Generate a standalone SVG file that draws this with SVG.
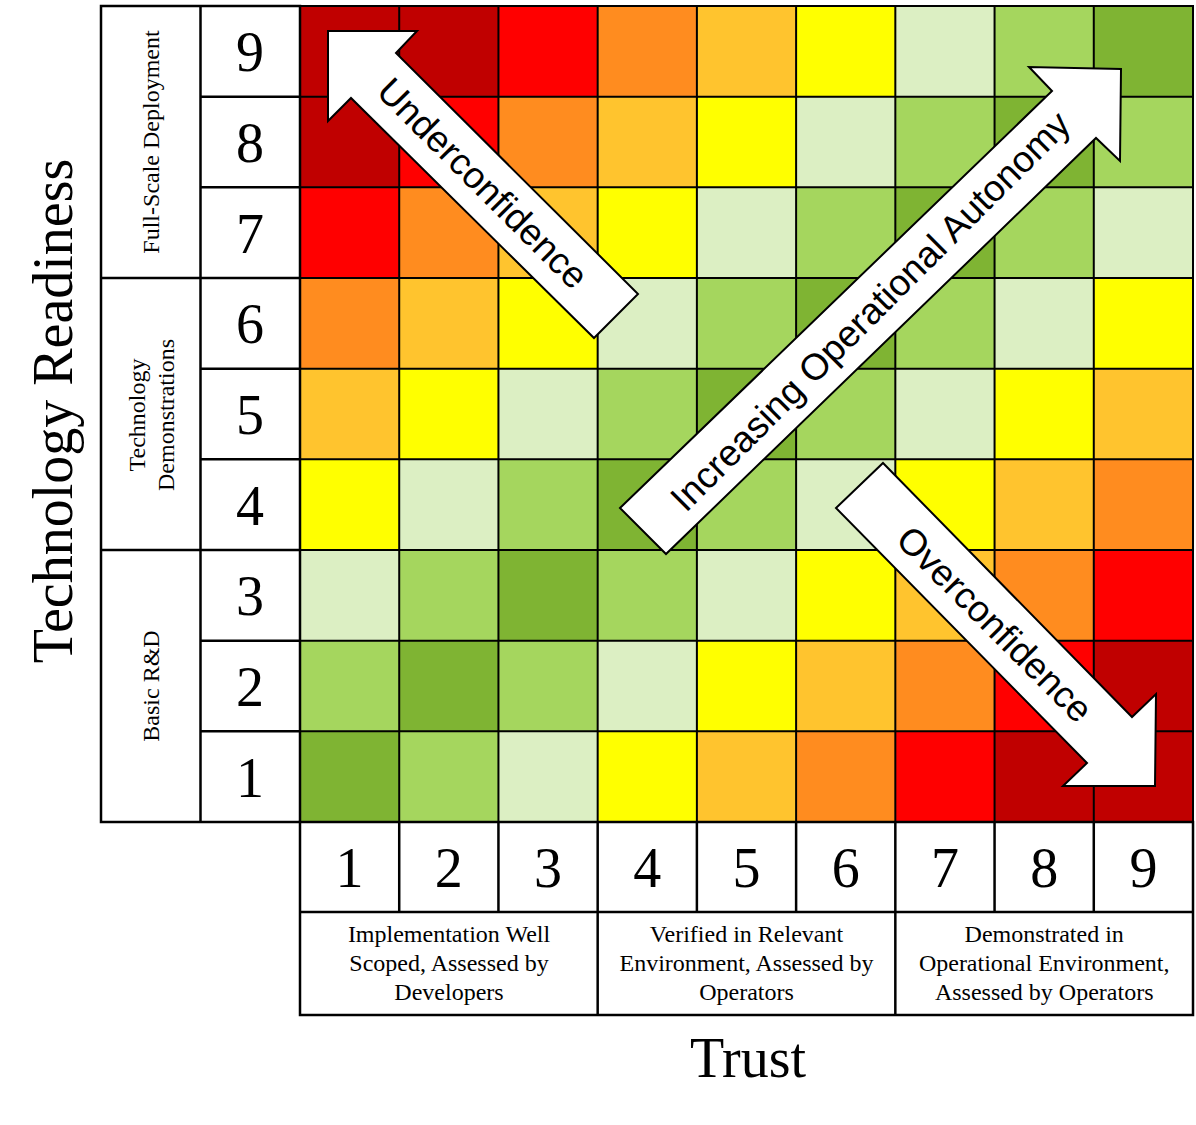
<svg xmlns="http://www.w3.org/2000/svg" width="1196" height="1125" viewBox="0 0 1196 1125">
<style>
.d0{fill:#7FB433}.d1{fill:#A5D65E}.d2{fill:#DCEFC3}.d3{fill:#FFFF00}.d4{fill:#FFC42E}.d5{fill:#FF8C1F}.d6{fill:#FF0000}.d7{fill:#C00000}
.grid{fill:none;stroke:#000;stroke-width:2}
.tbl{fill:#fff;stroke:#000;stroke-width:2.5}
.ln{fill:none;stroke:#000;stroke-width:2.5}
.num{font-family:"Liberation Serif","Times New Roman",serif;font-size:56px;text-anchor:middle;fill:#000}
.cat{font-family:"Liberation Serif","Times New Roman",serif;font-size:24px;text-anchor:middle;fill:#000}
.axis{font-family:"Liberation Serif","Times New Roman",serif;font-size:56px;text-anchor:middle;fill:#000}
.arw{fill:#fff;stroke:#000;stroke-width:2;stroke-linejoin:miter}
.arwt{font-family:"Liberation Sans",Arial,sans-serif;font-size:37px;text-anchor:middle;fill:#000}
</style>
<rect width="1196" height="1125" fill="#fff"/>
<g id="heatmap">
<g id="row-trl9">
<rect class="d7" x="300" y="6" width="99.22" height="90.67"/><rect class="d7" x="399.22" y="6" width="99.22" height="90.67"/><rect class="d6" x="498.44" y="6" width="99.23" height="90.67"/><rect class="d5" x="597.67" y="6" width="99.22" height="90.67"/><rect class="d4" x="696.89" y="6" width="99.22" height="90.67"/><rect class="d3" x="796.11" y="6" width="99.22" height="90.67"/><rect class="d2" x="895.33" y="6" width="99.23" height="90.67"/><rect class="d1" x="994.56" y="6" width="99.22" height="90.67"/><rect class="d0" x="1093.78" y="6" width="99.22" height="90.67"/>
</g>
<g id="row-trl8">
<rect class="d7" x="300" y="96.67" width="99.22" height="90.66"/><rect class="d6" x="399.22" y="96.67" width="99.22" height="90.66"/><rect class="d5" x="498.44" y="96.67" width="99.23" height="90.66"/><rect class="d4" x="597.67" y="96.67" width="99.22" height="90.66"/><rect class="d3" x="696.89" y="96.67" width="99.22" height="90.66"/><rect class="d2" x="796.11" y="96.67" width="99.22" height="90.66"/><rect class="d1" x="895.33" y="96.67" width="99.23" height="90.66"/><rect class="d0" x="994.56" y="96.67" width="99.22" height="90.66"/><rect class="d1" x="1093.78" y="96.67" width="99.22" height="90.66"/>
</g>
<g id="row-trl7">
<rect class="d6" x="300" y="187.33" width="99.22" height="90.67"/><rect class="d5" x="399.22" y="187.33" width="99.22" height="90.67"/><rect class="d4" x="498.44" y="187.33" width="99.23" height="90.67"/><rect class="d3" x="597.67" y="187.33" width="99.22" height="90.67"/><rect class="d2" x="696.89" y="187.33" width="99.22" height="90.67"/><rect class="d1" x="796.11" y="187.33" width="99.22" height="90.67"/><rect class="d0" x="895.33" y="187.33" width="99.23" height="90.67"/><rect class="d1" x="994.56" y="187.33" width="99.22" height="90.67"/><rect class="d2" x="1093.78" y="187.33" width="99.22" height="90.67"/>
</g>
<g id="row-trl6">
<rect class="d5" x="300" y="278" width="99.22" height="90.67"/><rect class="d4" x="399.22" y="278" width="99.22" height="90.67"/><rect class="d3" x="498.44" y="278" width="99.23" height="90.67"/><rect class="d2" x="597.67" y="278" width="99.22" height="90.67"/><rect class="d1" x="696.89" y="278" width="99.22" height="90.67"/><rect class="d0" x="796.11" y="278" width="99.22" height="90.67"/><rect class="d1" x="895.33" y="278" width="99.23" height="90.67"/><rect class="d2" x="994.56" y="278" width="99.22" height="90.67"/><rect class="d3" x="1093.78" y="278" width="99.22" height="90.67"/>
</g>
<g id="row-trl5">
<rect class="d4" x="300" y="368.67" width="99.22" height="90.66"/><rect class="d3" x="399.22" y="368.67" width="99.22" height="90.66"/><rect class="d2" x="498.44" y="368.67" width="99.23" height="90.66"/><rect class="d1" x="597.67" y="368.67" width="99.22" height="90.66"/><rect class="d0" x="696.89" y="368.67" width="99.22" height="90.66"/><rect class="d1" x="796.11" y="368.67" width="99.22" height="90.66"/><rect class="d2" x="895.33" y="368.67" width="99.23" height="90.66"/><rect class="d3" x="994.56" y="368.67" width="99.22" height="90.66"/><rect class="d4" x="1093.78" y="368.67" width="99.22" height="90.66"/>
</g>
<g id="row-trl4">
<rect class="d3" x="300" y="459.33" width="99.22" height="90.67"/><rect class="d2" x="399.22" y="459.33" width="99.22" height="90.67"/><rect class="d1" x="498.44" y="459.33" width="99.23" height="90.67"/><rect class="d0" x="597.67" y="459.33" width="99.22" height="90.67"/><rect class="d1" x="696.89" y="459.33" width="99.22" height="90.67"/><rect class="d2" x="796.11" y="459.33" width="99.22" height="90.67"/><rect class="d3" x="895.33" y="459.33" width="99.23" height="90.67"/><rect class="d4" x="994.56" y="459.33" width="99.22" height="90.67"/><rect class="d5" x="1093.78" y="459.33" width="99.22" height="90.67"/>
</g>
<g id="row-trl3">
<rect class="d2" x="300" y="550" width="99.22" height="90.67"/><rect class="d1" x="399.22" y="550" width="99.22" height="90.67"/><rect class="d0" x="498.44" y="550" width="99.23" height="90.67"/><rect class="d1" x="597.67" y="550" width="99.22" height="90.67"/><rect class="d2" x="696.89" y="550" width="99.22" height="90.67"/><rect class="d3" x="796.11" y="550" width="99.22" height="90.67"/><rect class="d4" x="895.33" y="550" width="99.23" height="90.67"/><rect class="d5" x="994.56" y="550" width="99.22" height="90.67"/><rect class="d6" x="1093.78" y="550" width="99.22" height="90.67"/>
</g>
<g id="row-trl2">
<rect class="d1" x="300" y="640.67" width="99.22" height="90.66"/><rect class="d0" x="399.22" y="640.67" width="99.22" height="90.66"/><rect class="d1" x="498.44" y="640.67" width="99.23" height="90.66"/><rect class="d2" x="597.67" y="640.67" width="99.22" height="90.66"/><rect class="d3" x="696.89" y="640.67" width="99.22" height="90.66"/><rect class="d4" x="796.11" y="640.67" width="99.22" height="90.66"/><rect class="d5" x="895.33" y="640.67" width="99.23" height="90.66"/><rect class="d6" x="994.56" y="640.67" width="99.22" height="90.66"/><rect class="d7" x="1093.78" y="640.67" width="99.22" height="90.66"/>
</g>
<g id="row-trl1">
<rect class="d0" x="300" y="731.33" width="99.22" height="90.67"/><rect class="d1" x="399.22" y="731.33" width="99.22" height="90.67"/><rect class="d2" x="498.44" y="731.33" width="99.23" height="90.67"/><rect class="d3" x="597.67" y="731.33" width="99.22" height="90.67"/><rect class="d4" x="696.89" y="731.33" width="99.22" height="90.67"/><rect class="d5" x="796.11" y="731.33" width="99.22" height="90.67"/><rect class="d6" x="895.33" y="731.33" width="99.23" height="90.67"/><rect class="d7" x="994.56" y="731.33" width="99.22" height="90.67"/><rect class="d7" x="1093.78" y="731.33" width="99.22" height="90.67"/>
</g>
<path class="grid" d="M300,6H1193V822H300Z M399.22,6V822 M498.44,6V822 M597.67,6V822 M696.89,6V822 M796.11,6V822 M895.33,6V822 M994.56,6V822 M1093.78,6V822 M300,96.67H1193 M300,187.33H1193 M300,278H1193 M300,368.67H1193 M300,459.33H1193 M300,550H1193 M300,640.67H1193 M300,731.33H1193"/>
</g>
<g id="trl-table">
<rect class="tbl" x="101" y="6" width="199" height="816"/>
<path class="ln" d="M200.5,6V822 M200.5,96.67H300 M200.5,187.33H300 M200.5,368.67H300 M200.5,459.33H300 M200.5,640.67H300 M200.5,731.33H300 M101,278H300 M101,550H300"/>
<g id="trl-numbers">
<text class="num" x="250" y="71.3">9</text>
<text class="num" x="250" y="162">8</text>
<text class="num" x="250" y="252.7">7</text>
<text class="num" x="250" y="343.3">6</text>
<text class="num" x="250" y="434">5</text>
<text class="num" x="250" y="524.7">4</text>
<text class="num" x="250" y="615.3">3</text>
<text class="num" x="250" y="706">2</text>
<text class="num" x="250" y="796.7">1</text>
</g>
<g id="trl-categories">
<text class="cat" transform="translate(159,142) rotate(-90)">Full-Scale Deployment</text>
<text class="cat" transform="translate(145,415) rotate(-90)">Technology</text>
<text class="cat" transform="translate(174,415) rotate(-90)">Demonstrations</text>
<text class="cat" transform="translate(159,686) rotate(-90)">Basic R&amp;D</text>
</g>
</g>
<g id="trust-table">
<rect class="tbl" x="300" y="822" width="893" height="193"/>
<path class="ln" d="M300,912H1193 M399.22,822V912 M498.44,822V912 M696.89,822V912 M796.11,822V912 M994.56,822V912 M1093.78,822V912 M597.67,822V1015 M895.33,822V1015"/>
<g id="trust-numbers">
<text class="num" x="349.6" y="887">1</text>
<text class="num" x="448.8" y="887">2</text>
<text class="num" x="548.1" y="887">3</text>
<text class="num" x="647.3" y="887">4</text>
<text class="num" x="746.5" y="887">5</text>
<text class="num" x="845.7" y="887">6</text>
<text class="num" x="944.9" y="887">7</text>
<text class="num" x="1044.2" y="887">8</text>
<text class="num" x="1143.4" y="887">9</text>
</g>
<g id="trust-categories">
<text class="cat" x="449" y="942">Implementation Well</text>
<text class="cat" x="449" y="971">Scoped, Assessed by</text>
<text class="cat" x="449" y="1000">Developers</text>
<text class="cat" x="746.5" y="942">Verified in Relevant</text>
<text class="cat" x="746.5" y="971">Environment, Assessed by</text>
<text class="cat" x="746.5" y="1000">Operators</text>
<text class="cat" x="1044.2" y="942">Demonstrated in</text>
<text class="cat" x="1044.2" y="971">Operational Environment,</text>
<text class="cat" x="1044.2" y="1000">Assessed by Operators</text>
</g>
</g>
<g id="axis-titles">
<text id="y-axis-title" class="axis" transform="translate(72,411) rotate(-90)">Technology Readiness</text>
<text id="x-axis-title" class="axis" x="748" y="1077">Trust</text>
</g>
<g id="arrows">
<g id="arrow-underconfidence">
<path class="arw" d="M328,31 L417,31 L396,53 L638,294 L594,338 L351,98 L328,121 Z"/>
<text class="arwt" transform="translate(483,183) rotate(45)" y="13">Underconfidence</text>
</g>
<g id="arrow-autonomy">
<path class="arw" d="M620,508 L1052,91 L1029,67 L1121,69 L1120,161 L1096,138 L666,554 Z"/>
<text class="arwt" transform="translate(870,311) rotate(-45)" y="13">Increasing Operational Autonomy</text>
</g>
<g id="arrow-overconfidence">
<path class="arw" d="M883,463 L1132,717 L1156,694 L1155,786 L1063,786 L1087,763 L836,508 Z"/>
<text class="arwt" transform="translate(995,624) rotate(45)" y="13">Overconfidence</text>
</g>
</g>
</svg>
